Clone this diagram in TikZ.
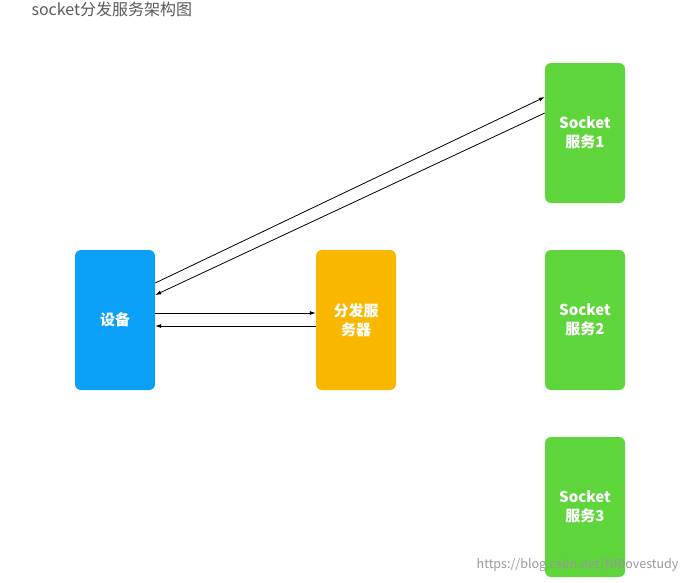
\documentclass[tikz,border=0pt]{standalone}
\usepackage{fontspec}
\setmainfont{Noto Sans CJK SC}
\usetikzlibrary{arrows.meta}
\definecolor{devblue}{RGB}{10,160,248}
\definecolor{dispyellow}{RGB}{249,183,0}
\definecolor{sockgreen}{RGB}{94,213,58}
\tikzset{
  box/.style={rounded corners=6pt, minimum width=80pt, minimum height=140pt,
    text=white, font=\bfseries\fontsize{15}{19}\selectfont, align=center, inner sep=0pt},
  link/.style={-{Latex[length=6pt,width=4pt]}, line width=0.8pt}
}
\begin{document}
\begin{tikzpicture}[x=1pt, y=-1pt]
  \useasboundingbox (0,0) rectangle (692,582);
  % Title
  \node[anchor=west, text=black!65, font=\fontsize{16}{18}\selectfont] (title) at (28,9) {socket分发服务架构图};
  % Boxes
  \node[box, fill=devblue] (dev) at (115,320) {设备};
  \node[box, fill=dispyellow] (disp) at (356,320) {分发服\\务器};
  \node[box, fill=sockgreen] (s1) at (585,133) {Socket\\服务1};
  \node[box, fill=sockgreen] (s2) at (585,320) {Socket\\服务2};
  \node[box, fill=sockgreen] (s3) at (585,507) {Socket\\服务3};
  % Connectors
  \draw[link] ([yshift=37pt]dev.east) -- ([yshift=36pt]s1.west);
  \draw[link] ([yshift=20pt]s1.west) -- ([yshift=25pt]dev.east);
  \draw[link] ([yshift=7pt]dev.east) -- ([yshift=7pt]disp.west);
  \draw[link] ([yshift=-6pt]disp.west) -- ([yshift=-6pt]dev.east);
  % Watermark
  \node[anchor=east, text=black!40, font=\fontsize{12.5}{14}\selectfont] (wm) at (682,565) {https://blog.csdn.net/NRIovestudy};
\end{tikzpicture}
\end{document}
